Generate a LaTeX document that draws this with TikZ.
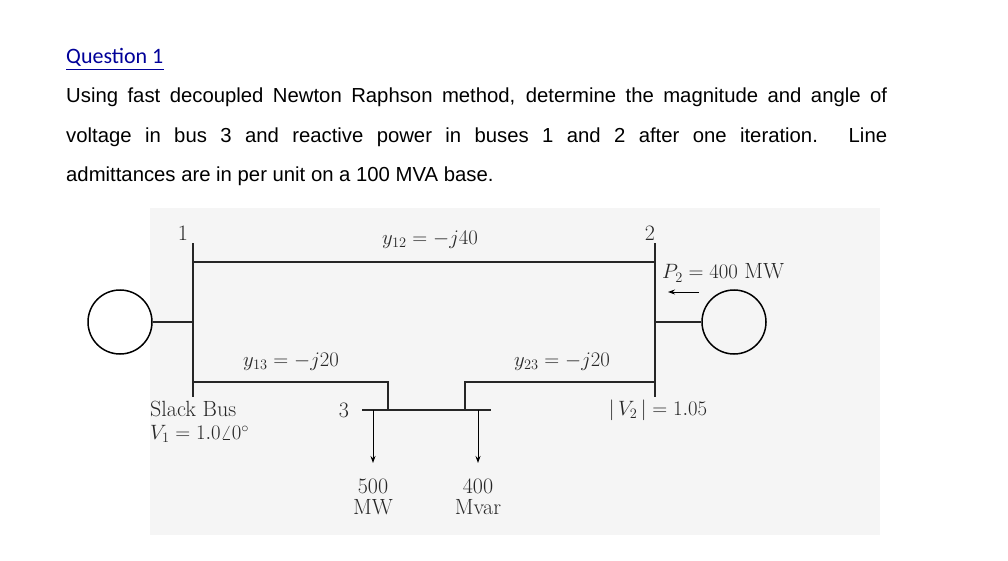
\documentclass[tikz,border=0pt]{standalone}
\usepackage{fontspec}
\setmainfont{Liberation Sans}
\newfontfamily\calib{Carlito}
\newfontfamily\lmr{Latin Modern Roman}
\usetikzlibrary{arrows.meta}
\begin{document}
\begin{tikzpicture}[x=1pt,y=-1pt,
  wire/.style={line width=1.5pt,black!85},
  lab/.style={font=\lmr\fontsize{22}{23}\selectfont,inner sep=0pt,text=black!85},
  load/.style={line width=1pt,-{Stealth[length=7pt,width=5pt]}},
  gen/.style={circle,draw,line width=1.5pt,minimum size=64pt,inner sep=0pt}]
\useasboundingbox (0,0) rectangle (1008,561);
\fill[white] (0,0) rectangle (1008,561);
\fill[black!4] (150,208) rectangle (880,535);
\node[anchor=west,inner sep=0pt,text=blue!60!black] (q) at (66,57) {\calib\fontsize{22}{24}\selectfont Question 1};
\draw[blue!60!black,line width=0.8pt] (q.south west) ++(0,3) -- ([yshift=-3pt]q.south east);
\node[anchor=base west,inner sep=0pt] (para) at (66,103) {\parbox[t]{821pt}{\fontsize{20.3}{39.5}\selectfont Using fast decoupled Newton Raphson method, determine the magnitude and angle of\linebreak voltage in bus 3 and reactive power in buses 1 and 2 after one iteration. Line\linebreak admittances are in per unit on a 100 MVA base.}};
% buses
\coordinate (b1t) at (193,243); \coordinate (b1b) at (193,397);
\coordinate (b2t) at (655,243); \coordinate (b2b) at (655,397);
\draw[wire] (b1t) -- (b1b);
\draw[wire] (b2t) -- (b2b);
\draw[wire] (193,262) -- (655,262);
\node[gen] (g1) at (120,322) {};
\node[gen] (g2) at (734,322) {};
\draw[wire] (g1.east) -- (193,322);
\draw[wire] (g2.west) -- (655,322);
\coordinate (b3l) at (362,410); \coordinate (b3r) at (491,410);
\draw[wire] (b3l) -- (b3r);
\draw[wire] (193,382) -- (388,382) -- (388,410);
\draw[wire] (655,382) -- (465,382) -- (465,410);
\coordinate (l1) at (373,463); \coordinate (l2) at (478,463);
\draw[load] (373,410) -- (l1);
\draw[load] (478,410) -- (l2);
\draw[line width=1pt,-{Stealth[length=7pt,width=5pt]}] (699,292) -- (668,292);
% labels
\node[lab] (n1) at (183,233) {1};
\node[lab] (n2) at (650,233) {2};
\node[lab] (y12) at (430,240) {$y_{12}=-j40$};
\node[lab,anchor=west] (p2) at (662,273) {$P_2=400$ MW};
\node[lab] (y13) at (291,362) {$y_{13}=-j20$};
\node[lab] (y23) at (562,362) {$y_{23}=-j20$};
\node[lab] (n3) at (344,410) {3};
\node[lab] (v2) at (658,410) {$|\,V_2\,|=1.05$};
\node[lab,anchor=west] (sb) at (150,409) {Slack Bus};
\node[lab,anchor=west] (v1) at (150,434) {$V_1=1.0\angle 0^\circ$};
\node[lab,align=center,font=\lmr\fontsize{22}{21}\selectfont] (m1) at (373,497) {500\\MW};
\node[lab,align=center,font=\lmr\fontsize{22}{21}\selectfont] (m2) at (478,497) {400\\Mvar};
\end{tikzpicture}
\end{document}
